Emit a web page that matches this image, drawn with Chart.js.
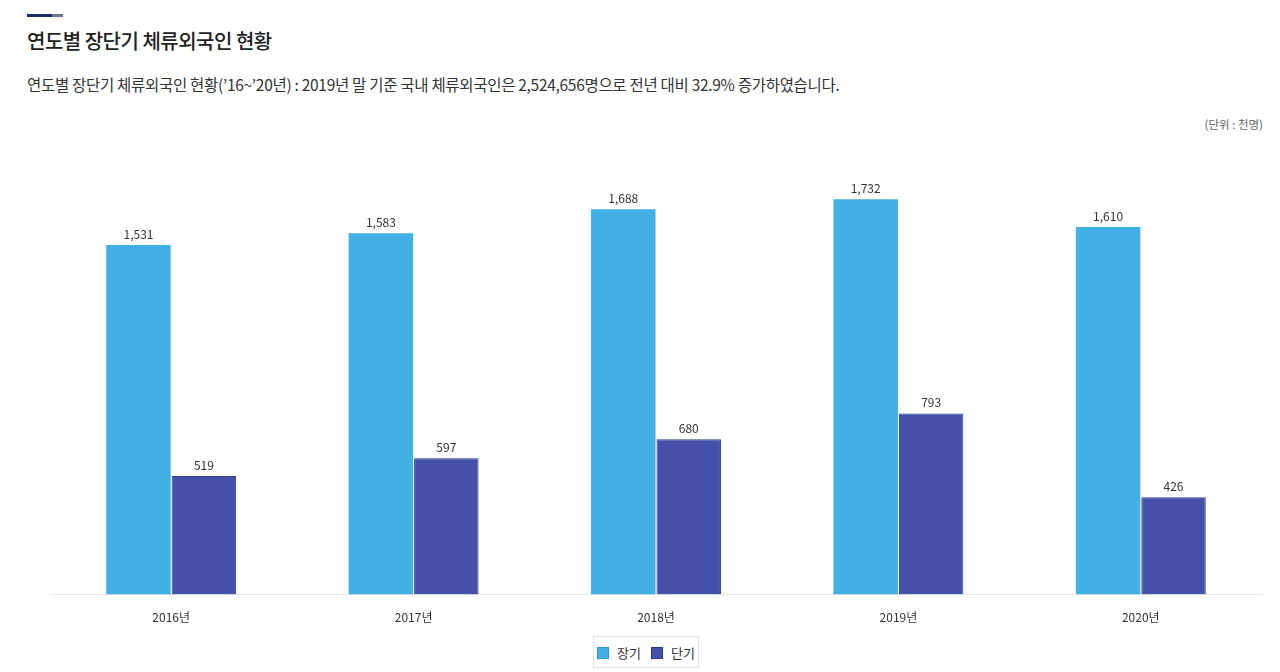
<!DOCTYPE html>
<html><head><meta charset="utf-8">
<script src="https://cdn.jsdelivr.net/npm/chart.js@4"></script>
<style>
body{margin:0;background:#fff;font-family:"Noto Sans CJK KR","Noto Sans",sans-serif;color:#222;width:1280px;height:672px;position:relative;overflow:hidden}
.bar{position:absolute;left:27px;top:14px;width:36px;height:3px;background:linear-gradient(90deg,#1b2a6b 70%,#6d7790 70%)}
h1{position:absolute;left:27px;top:26px;margin:0;font-size:20px;font-weight:500;letter-spacing:-0.5px}
.sub{position:absolute;left:27px;top:73px;font-size:15.5px;color:#333;letter-spacing:-0.3px}
.unit{position:absolute;right:17px;top:116px;font-size:11.5px;color:#666}
#wrap{position:absolute;left:0;top:128px;width:1280px;height:505px}
.leg{position:absolute;left:593px;top:636px;width:104px;height:30px;border:1px solid #e4e4e4;font-size:13px;display:flex;align-items:center;justify-content:center;gap:10px;color:#333}
.leg span i{display:inline-block;width:10px;height:10px;margin-right:8px;vertical-align:-1px}
</style></head><body>
<div class="bar"></div>
<h1>연도별 장단기 체류외국인 현황</h1>
<div class="sub">연도별 장단기 체류외국인 현황(’16~’20년) : 2019년 말 기준 국내 체류외국인은 2,524,656명으로 전년 대비 32.9% 증가하였습니다.</div>
<div class="unit">(단위 : 천명)</div>
<div id="wrap"><canvas id="c"></canvas></div>
<div class="leg"><span><i style="background:#41b0e4;border:1px solid #2a9ad0"></i>장기</span><span><i style="background:#4550a8;border:1px solid #2b3990"></i>단기</span></div>
<script>
const categories=["2016년","2017년","2018년","2019년","2020년"];
const longTerm=[1531,1583,1688,1732,1610];
const shortTerm=[519,597,680,793,426];
const labelPlugin={id:'lbl',afterDatasetsDraw(ch){const ctx=ch.ctx;ctx.save();ctx.font='12px "Noto Sans CJK KR"';ctx.fillStyle='#333';ctx.textAlign='center';ctx.textBaseline='bottom';
ch.data.datasets.forEach((d,i)=>{ch.getDatasetMeta(i).data.forEach((b,j)=>{ctx.fillText(d.data[j].toLocaleString('en-US'),b.x,b.y-5);});});ctx.restore();}};
new Chart(document.getElementById('c'),{type:'bar',
data:{labels:categories,datasets:[
{label:'장기',data:longTerm,backgroundColor:'#41b0e4',borderColor:'#2a9ad0',borderWidth:0},
{label:'단기',data:shortTerm,backgroundColor:'#4550a8',borderColor:'#2b3990',borderWidth:1}]},
options:{responsive:true,maintainAspectRatio:false,animation:false,
layout:{padding:{left:50,right:18,top:10}},
categoryPercentage:0.54,barPercentage:0.985,
plugins:{legend:{display:false},tooltip:{enabled:false}},
scales:{y:{display:false,min:0,max:2000},
x:{grid:{display:false},border:{color:'#e8e8e8'},ticks:{color:'#333',font:{size:12,family:'"Noto Sans CJK KR"'},padding:8}}}},
plugins:[labelPlugin]});
</script></body></html>
